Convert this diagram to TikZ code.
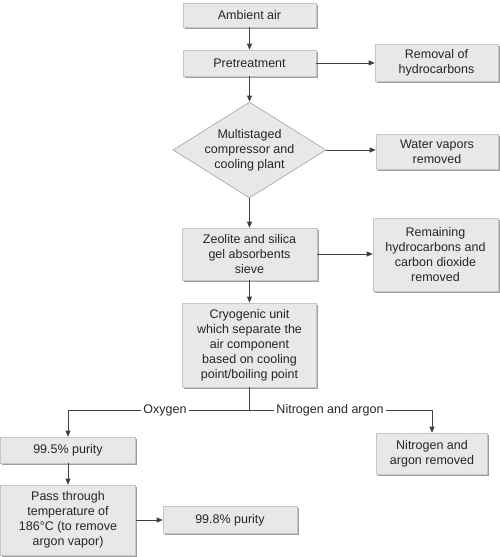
\documentclass[tikz,border=0pt]{standalone}
\usepackage{fontspec}
\setmainfont{Liberation Sans}
\usetikzlibrary{shapes.geometric,shadows,arrows.meta}
\begin{document}
\begin{tikzpicture}[x=1pt,y=-1pt,
  font=\fontsize{12.5}{15}\selectfont,
  box/.style={draw=gray!45,fill=gray!18,line width=0.6pt,align=center,inner sep=1pt,
    drop shadow={shadow xshift=1.6pt,shadow yshift=-1.6pt,fill=gray!75,opacity=1},
    text=black!85},
  dia/.style={diamond,aspect=1.6,draw=gray!60,fill=gray!18,line width=0.8pt,align=center,inner sep=-1.5pt,text=black!85},
  arr/.style={draw=black!75,line width=0.8pt,-{Triangle[length=6pt,width=5pt]}},
  ln/.style={draw=black!75,line width=0.8pt},
  lbl/.style={fill=white,inner sep=2pt,text=black!85}]
\useasboundingbox (0,0) rectangle (500,557);
\node[box,minimum width=133pt,minimum height=24pt] (amb) at (249.5,15) {Ambient air};
\node[box,minimum width=133pt,minimum height=26pt] (pre) at (249.5,63) {Pretreatment};
\node[box,minimum width=123pt,minimum height=37pt] (rem) at (436.5,63) {Removal of\\hydrocarbons};
\node[dia,minimum width=153pt,minimum height=96pt] (dia) at (249.5,150) {Multistaged\\compressor and\\cooling plant};
\node[box,minimum width=122pt,minimum height=35pt] (wat) at (437,152) {Water vapors\\removed};
\node[box,minimum width=135pt,minimum height=52pt] (zeo) at (249.5,254) {Zeolite and silica\\gel absorbents\\sieve};
\node[box,minimum width=125pt,minimum height=73pt] (remh) at (435.5,255) {Remaining\\hydrocarbons and\\carbon dioxide\\removed};
\node[box,minimum width=134pt,minimum height=84pt] (cryo) at (249.5,345) {Cryogenic unit\\which separate the\\air component\\based on cooling\\point/boiling point};
\node[box,minimum width=135pt,minimum height=26pt] (p995) at (68,450) {99.5\% purity};
\node[box,minimum width=111pt,minimum height=41pt] (nar) at (432,453.5) {Nitrogen and\\argon removed};
\node[box,minimum width=135pt,minimum height=70pt] (pass) at (68,520) {Pass through\\temperature of\\186°C (to remove\\argon vapor)};
\node[box,minimum width=134pt,minimum height=27pt] (p998) at (230,520) {99.8\% purity};
\coordinate (j) at (249.5,410);
\coordinate (jl) at (68,410);
\coordinate (jr) at (432,410);
\draw[arr] (amb) -- (pre);
\draw[arr] (pre) -- (dia.north);
\draw[arr] (pre) -- (rem);
\draw[arr] (dia.east) -- (dia.east -| wat.west);
\draw[arr] (dia.south) -- (zeo);
\draw[arr] (zeo.east) -- (zeo.east -| remh.west);
\draw[arr] (zeo) -- (cryo);
\draw[ln] (cryo.south) -- (j);
\draw[ln] (jl) -- (jr);
\draw[arr] (jl) -- (p995);
\draw[arr] (jr) -- (nar);
\draw[arr] (p995) -- (pass);
\draw[arr] (pass.east |- p998) -- (p998);
\node[lbl] (oxy) at (165,410) {Oxygen};
\node[lbl] (nit) at (330,410) {Nitrogen and argon};
\end{tikzpicture}
\end{document}
